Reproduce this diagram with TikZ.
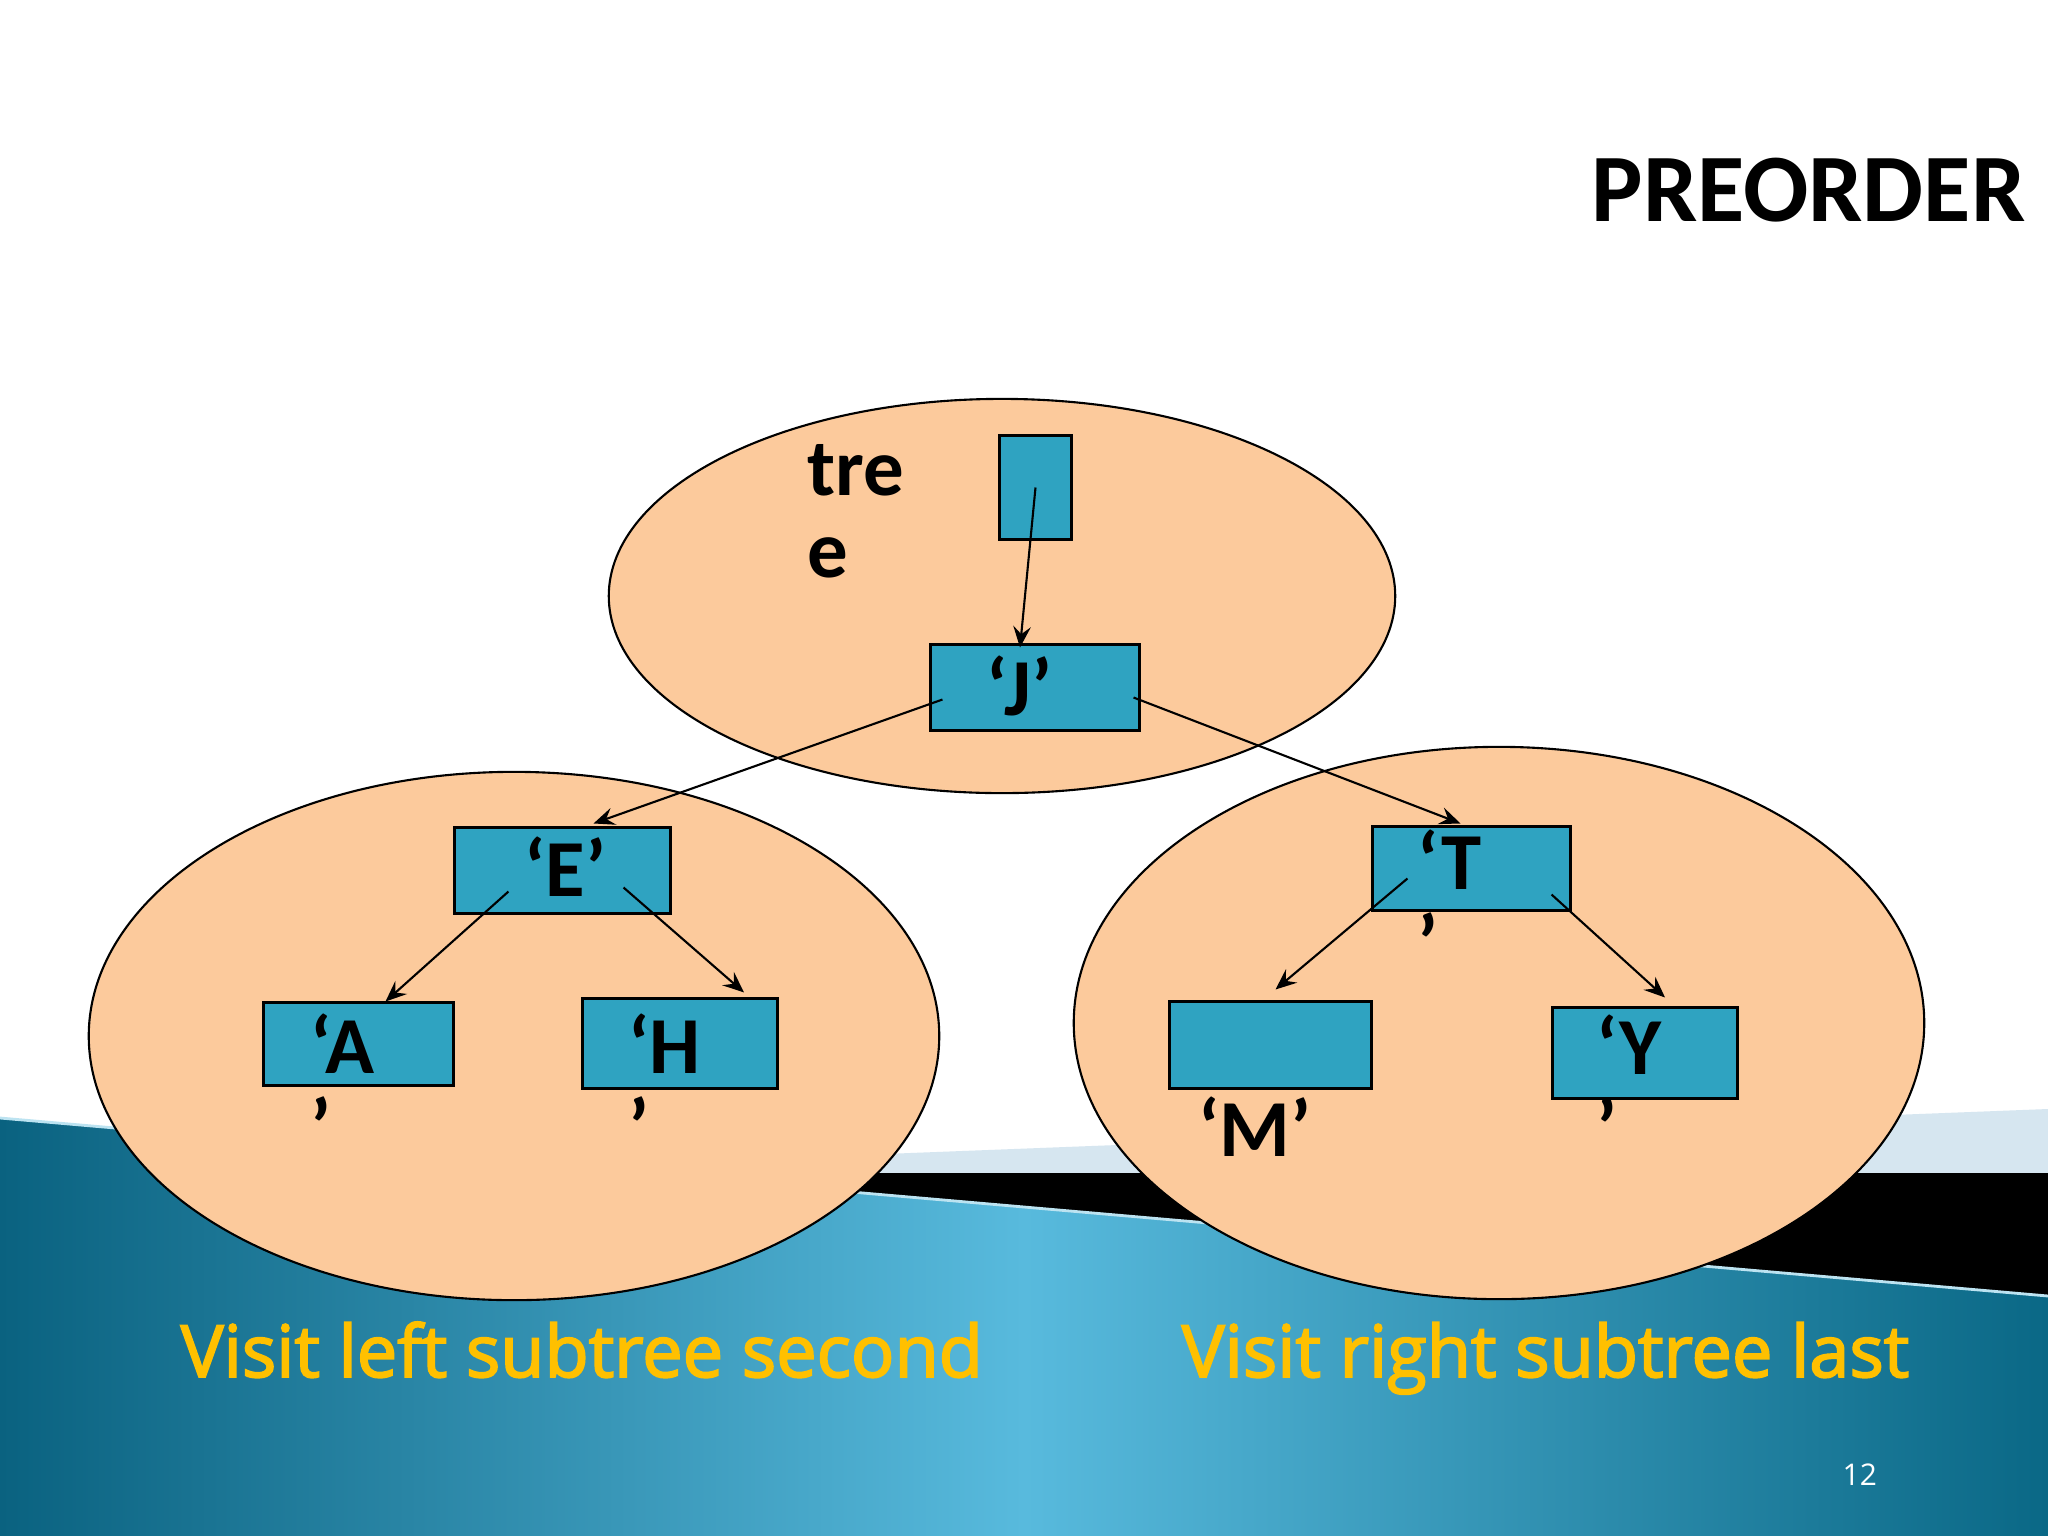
\documentclass[tikz,border=0pt]{standalone}
\usepackage{fontspec}
\setmainfont{Carlito}
\newfontfamily\capfont[FakeBold=2.5]{Open Sans}
\newfontfamily\numfont{Open Sans}
\usepackage{tikz}
\usetikzlibrary{positioning,arrows.meta,shapes.geometric}
\definecolor{peach}{RGB}{252,202,156}
\definecolor{boxteal}{RGB}{47,163,193}
\definecolor{capgold}{RGB}{255,192,0}
\definecolor{paleblue}{RGB}{214,230,240}
\definecolor{deepblue}{RGB}{10,98,128}
\definecolor{lightblue}{RGB}{88,186,221}
\definecolor{seablue}{RGB}{10,104,134}

\begin{document}
\begin{tikzpicture}[x=0.01cm,y=-0.01cm,
 grp/.style={ellipse,draw,line width=0.6pt,fill=peach,inner sep=0pt},
 cell/.style={draw,line width=0.85pt,fill=boxteal,inner sep=0pt},
 lbl/.style={font=\bfseries\fontsize{23}{23.3}\selectfont,align=left,anchor=base west,inner sep=0pt},
 subcap/.style={font=\capfont\fontsize{20.5}{24}\selectfont,text=capgold,anchor=base west,inner sep=0pt},
 ptr/.style={-{Stealth[length=6pt,width=5pt,inset=2.2pt]},line width=0.6pt}]
 \useasboundingbox (0,0) rectangle (2048,1536);
 \fill[white](0,0) rectangle (2048,1536);
 \fill[paleblue](600,1173)--(600,1165)--(2048,1109)--(2048,1173)--cycle;
 \fill(632,1173)--(2048,1173)--(2048,1296)--cycle;
 \shade[left color=deepblue,right color=seablue,middle color=lightblue](0,1118)--(2048,1296)--(2048,1536)--(0,1536)--cycle;
 \draw[white!60!lightblue,line width=0.8pt](0,1118)--(2048,1296);

 \node[grp,minimum width=7.86cm,minimum height=3.94cm](rootgrp) at (1002,596){};
 \node[grp,minimum width=8.5cm,minimum height=5.28cm](leftgrp) at (514,1036){};
 \node[grp,minimum width=8.5cm,minimum height=5.52cm](rightgrp) at (1499,1023){};

 \node[cell,minimum width=0.71cm,minimum height=1.03cm](tree) at (1035.5,487.5){};
 \node[cell,minimum width=2.08cm,minimum height=0.85cm](j) at (1035,687.5){};
 \node[cell,minimum width=2.15cm,minimum height=0.85cm](e) at (562.5,870.5){};
 \node[cell,minimum width=1.89cm,minimum height=0.82cm](a) at (358.5,1044){};
 \node[cell,minimum width=1.94cm,minimum height=0.89cm](h) at (680,1043.5){};
 \node[cell,minimum width=1.97cm,minimum height=0.83cm](t) at (1471.5,868.5){};
 \node[cell,minimum width=2.01cm,minimum height=0.86cm](m) at (1270.5,1045){};
 \node[cell,minimum width=1.84cm,minimum height=0.90cm](y) at (1645,1053){};

 \node[lbl](treelbl) at (807,577){tre\\e};
 \node[lbl](jlbl) at (986,715){‘J’};
 \node[lbl](elbl) at (524,896){‘E’};
 \node[lbl](albl) at (310,1155){‘A\\’};
 \node[lbl](hlbl) at (628,1155){‘H\\’};
 \node[lbl](tlbl) at (1417,971){‘T\\’};
 \node[lbl](ylbl) at (1596,1156){‘Y\\’};
 \node[lbl](mlbl) at (1198,1156){‘M’};

 \draw[ptr](tree.center)--([xshift=-0.15cm,yshift=-0.04cm]j.north);
 \draw[ptr]([xshift=0.13cm,yshift=-0.12cm]j.west)--([xshift=0.31cm,yshift=0.03cm]e.north);
 \draw[ptr]([xshift=-0.07cm,yshift=-0.1cm]j.east)--([xshift=-0.11cm,yshift=0.02cm]t.north);
 \draw[ptr]([xshift=-0.54cm,yshift=-0.21cm]e.center)--([xshift=0.27cm]a.north);
 \draw[ptr]([xshift=0.61cm,yshift=-0.17cm]e.center)--([xshift=0.64cm,yshift=0.05cm]h.north);
 \draw[ptr]([xshift=-0.64cm,yshift=-0.1cm]t.center)--([xshift=0.05cm,yshift=0.11cm]m.north);
 \draw[ptr]([xshift=0.8cm,yshift=-0.26cm]t.center)--([xshift=0.2cm,yshift=0.09cm]y.north);

 \node[font=\bfseries\fontsize{27.5}{30}\selectfont,anchor=base west,inner sep=0pt](title) at (1591,221){PREORDER};
 \node[subcap](leftcap) at (180,1377){Visit left subtree second};
 \node[subcap](rightcap) at (1181,1377){Visit right subtree last};
 \node[font=\numfont\fontsize{8.5}{10}\selectfont,text=white,anchor=base west,inner sep=0pt](pageno) at (1842,1485){12};
\end{tikzpicture}
\end{document}
